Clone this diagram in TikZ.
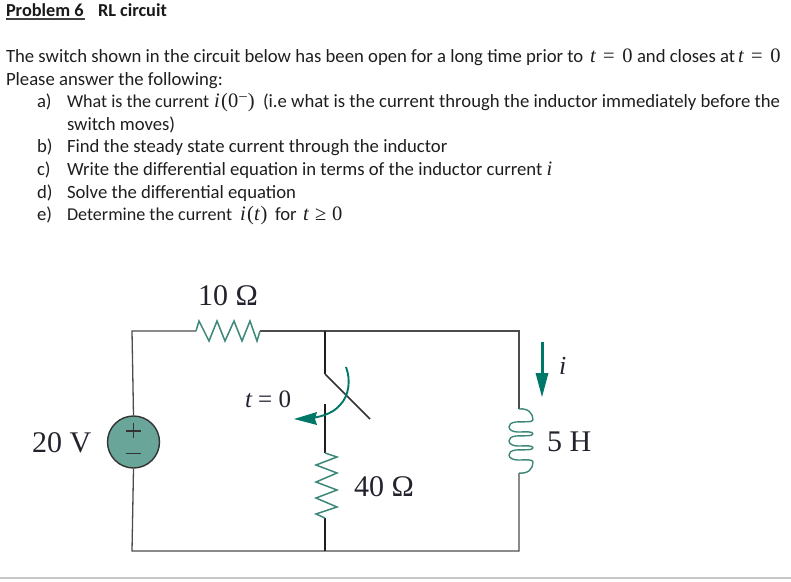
\documentclass[tikz,border=0pt]{standalone}
\usepackage{fontspec}
\setmainfont{Carlito}
\newfontfamily\mathf{Liberation Serif}
\newfontfamily\circf{Liberation Serif}
\usetikzlibrary{arrows.meta}
\definecolor{txt}{RGB}{30,30,30}
\definecolor{ckt}{RGB}{35,35,45}
\definecolor{teal1}{RGB}{60,135,120}
\definecolor{teal2}{RGB}{0,120,105}
\definecolor{srcfill}{RGB}{105,165,152}
\newcommand{\mi}[1]{{\mathf\itshape\fontsize{20.5}{20}\selectfont #1}}
\newcommand{\mr}[1]{{\mathf\fontsize{20.5}{20}\selectfont #1}}
\newcommand{\supminus}{\raisebox{0.72ex}{\mathf\fontsize{15}{15}\selectfont –}}
\newcommand{\meq}{\hspace{7.5pt}\mr{=}\hspace{7.5pt}}
\tikzset{
  body/.style={anchor=base west,inner sep=0pt,outer sep=0pt,text=txt,font=\fontsize{18.7}{20}\selectfont},
  bodyshort/.style={body,font=\fontsize{18.1}{20}\selectfont},
  titletext/.style={anchor=base west,inner sep=0pt,outer sep=0pt,text=black!90,font=\bfseries\fontsize{18.3}{20}\selectfont},
  lab/.style={anchor=base west,inner sep=0pt,outer sep=0pt,text=ckt,font=\circf\fontsize{30}{32}\selectfont},
  wire/.style={draw=black!70,line width=1.3pt},
  darkwire/.style={draw=black!88,line width=1.7pt},
  zig/.style={draw=teal1,line width=1.5pt,line join=miter},
  coil/.style={draw=teal1,line width=1.4pt},
  tealarrow/.style={draw=teal2,line width=1.9pt}
}
\begin{document}
\begin{tikzpicture}[x=1pt,y=-1pt]
\useasboundingbox (0,0) rectangle (791,581);
% text
\node[titletext] (title) at (6,16) {Problem 6};
\node[titletext] (title2) at (98,16) {RL circuit};
\draw[black!75,line width=1.1pt] (6,19) -- (85,19);
\node[body] (l1) at (6,62) {The switch shown in the circuit below has been open for a long time prior to};
\node[body] (l1b) at (590,62) {\mi{t}\meq\mr{0}};
\node[body] (l1c) at (637,62) {and closes at};
\node[body] (l1d) at (738,62) {\mi{t}\meq\mr{0}};
\node[body] (l2) at (6,85) {Please answer the following:};
\node[body] (la) at (37,107) {a)};
\node[bodyshort] (lat) at (67,107) {What is the current};
\node[body] (lat1) at (214,107) {\mi{i}\hspace{1.5pt}\mr{(0}\hspace{1pt}\supminus\hspace{1pt}\mr{)}};
\node[body] (lat3) at (263,107) {(i.e what is the current through the inductor immediately before the};
\node[body] (lat2) at (67,130) {switch moves)};
\node[body] (lb) at (37,152) {b)};
\node[body] (lbt) at (67,152) {Find the steady state current through the inductor};
\node[body] (lc) at (37,175) {c)};
\node[body] (lct) at (67,175) {Write the differential equation in terms of the inductor current \mi{i}};
\node[body] (ld) at (37,198) {d)};
\node[body] (ldt) at (67,198) {Solve the differential equation};
\node[body] (le) at (37,220) {e)};
\node[bodyshort] (let) at (67,220) {Determine the current};
\node[body] (let1) at (240,220) {\mi{i}\hspace{1.5pt}\mr{(}\mi{t}\hspace{1pt}\mr{)}};
\node[body] (let2) at (275,220) {for};
\node[body] (let3) at (303,220) {\mi{t}};
\node[body] (let4) at (315,220) {\mr{≥}};
\node[body] (let5) at (332,220) {\mr{0}};
% circuit coordinates
\coordinate (TL) at (132,331);
\coordinate (R1a) at (196,331);
\coordinate (R1b) at (260,331);
\coordinate (TM) at (325,331);
\coordinate (TR) at (519,331);
\coordinate (BL) at (132,551);
\coordinate (BM) at (325,551);
\coordinate (BR) at (519,551);
\coordinate (SWa) at (325,374);
\coordinate (SWb) at (370,419);
\coordinate (SWc) at (325,404);
\coordinate (R2a) at (325,453);
\coordinate (R2b) at (325,518);
\coordinate (La) at (519,409);
\coordinate (Lb) at (519,473);
\node[circle,draw=black!80,fill=srcfill,line width=1.4pt,minimum size=52pt,inner sep=0pt] (src) at (133.5,442) {};
% wires
\draw[wire] (src.north) -- (TL) -- (R1a);
\draw[wire] (R1b) -- (TR) -- (La);
\draw[wire] (src.south) -- (BL) -- (BR) -- (Lb);
\draw[darkwire] (TM) -- (SWa);
\draw[draw=black!80,line width=1.5pt] (SWa) -- (SWb);
\draw[darkwire] (SWc) -- (R2a);
\draw[darkwire] (R2b) -- (BM);
% 10 ohm
\draw[zig] (R1a) -- (199,321) -- (209,341) -- (217,321) -- (225,341) -- (234,321) -- (242,341) -- (250,321) -- (257,341) -- (R1b);
% 40 ohm
\draw[zig] (R2a) -- (337,457) -- (316,465) -- (337,473) -- (316,482) -- (337,490) -- (316,498) -- (337,507) -- (316,514) -- (R2b);
% inductor
\draw[coil] (La) .. controls (528,408) and (533,413) .. (533,420);
\foreach \d in {0,14,28}
  \draw[coil,shift={(0,\d)}] (533,420)
    .. controls (533,422.5) and (522,421.5) .. (516,422)
    .. controls (511,422.5) and (509,424.5) .. (509,427)
    .. controls (509,430) and (513,432) .. (518,432)
    .. controls (526,432) and (533,431) .. (533,434);
\draw[coil] (533,462) .. controls (533,469) and (528,474) .. (Lb);
% source signs
\draw[black!80,line width=1.1pt] (133.5,423) -- (133.5,438) (126,431) -- (141,431);
\draw[black!80,line width=1.1pt] (125.5,453.5) -- (141,453.5);
% switch arrow
\draw[tealarrow] (346,367) .. controls (351,380) and (349,396) .. (340,405) .. controls (334,412) and (325,416) .. (312,418);
\fill[teal2] (294,419) -- (317,412) -- (315,419) -- (317,425) -- cycle;
% i arrow
\draw[teal2,line width=3pt] (542,342) -- (542,374);
\fill[teal2] (535.5,373) -- (548.5,373) -- (542,397) -- cycle;
% circuit labels
\node[lab] (v10) at (198,305) {10 Ω};
\node[lab] (v20) at (32,452) {20 V};
\node[lab,font=\circf\fontsize{25}{28}\selectfont] (t0) at (245,407) {\itshape t\upshape\ = 0};
\node[lab] (v40) at (354,496) {40 Ω};
\node[lab] (v5) at (547,451) {5 H};
\node[lab,font=\circf\itshape\fontsize{26}{28}\selectfont] (ii) at (559,374) {i};
% bottom rule
\draw[black!22,line width=2pt] (0,578) -- (791,578);
\end{tikzpicture}
\end{document}
